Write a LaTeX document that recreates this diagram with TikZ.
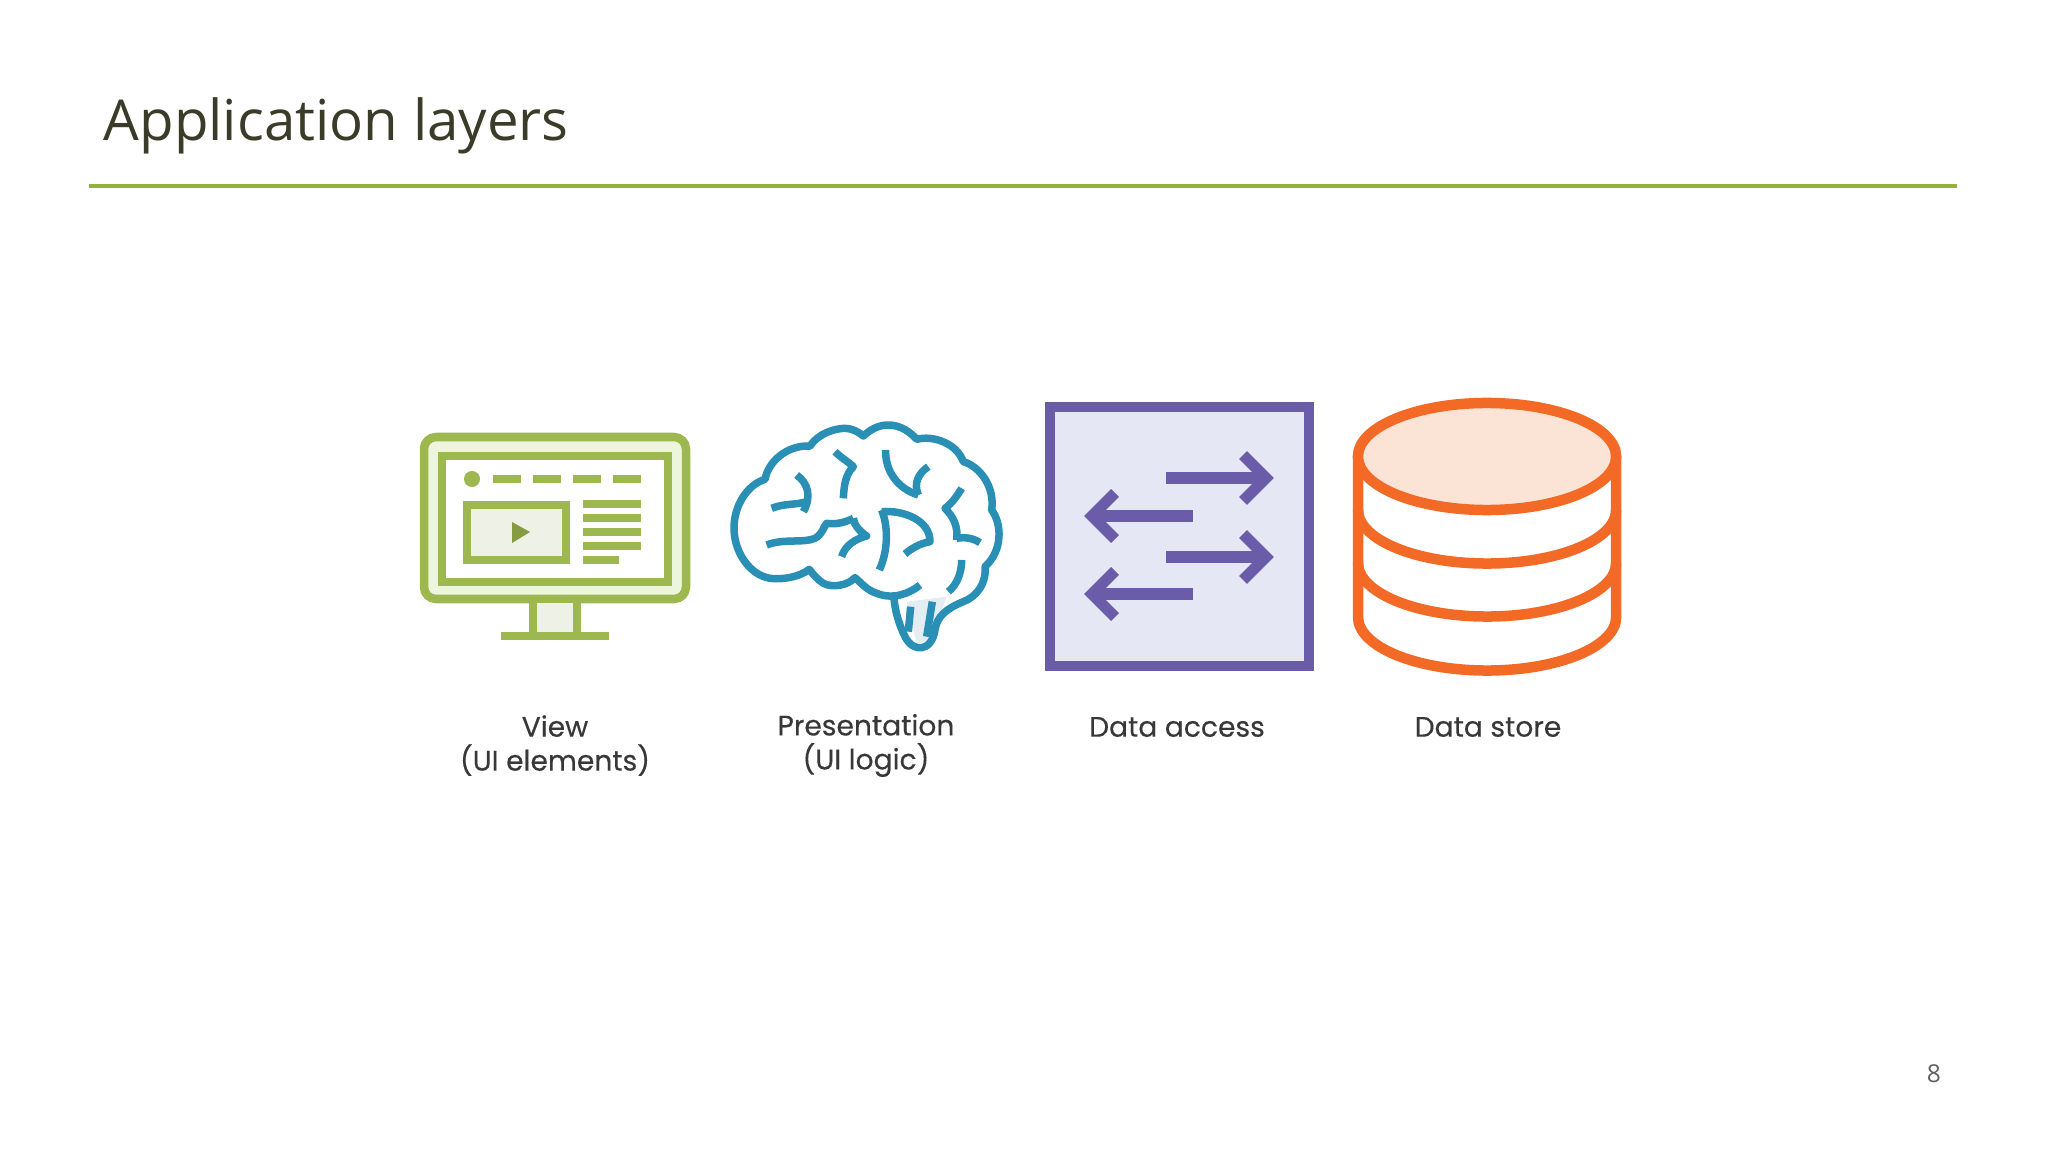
\documentclass[tikz,border=0pt]{standalone}
\usepackage{fontspec}
\setmainfont{Open Sans}
\newfontfamily\labelfont[FakeBold=0.35]{Poppins}
\definecolor{viewgreen}{HTML}{9CB84E}
\definecolor{viewtint}{HTML}{EDF5DC}
\definecolor{viewfill}{HTML}{EEF1E6}
\definecolor{brainblue}{HTML}{2A8FB5}
\definecolor{braintint}{HTML}{E4EEF2}
\definecolor{accesspurple}{HTML}{6A5CA8}
\definecolor{accesstint}{HTML}{E6E7F5}
\definecolor{storeorange}{HTML}{F26A26}
\definecolor{storetint}{HTML}{FBE3D6}
\definecolor{rulegreen}{HTML}{92B13F}
\definecolor{titleink}{HTML}{3B3B2A}
\tikzset{
  viewline/.style={viewgreen, line width=0.085cm},
  brainline/.style={brainblue, line width=0.075cm, line cap=butt, line join=round},
  accessline/.style={accesspurple, line width=0.11cm, miter limit=10},
  storeline/.style={storeorange, line width=0.105cm, line join=round},
  iconlabel/.style={font=\labelfont\fontsize{8}{9.65}\selectfont, text=black!78, align=center, inner sep=0pt},
}
\begin{document}
\begin{tikzpicture}[x=0.01cm, y=-0.01cm]
\useasboundingbox (0,0) rectangle (2048,1152);
\node[anchor=base west, inner sep=0pt, text=titleink, font=\fontsize{16.05}{20}\selectfont] (title) at (103,141) {Application layers};
\draw[rulegreen, line width=0.045cm] (89,186) -- (1957,186);
\node[text=black!62, inner sep=0pt, font=\fontsize{7}{9}\selectfont] (pagenum) at (1934,1074) {8};
% view: monitor
\draw[viewline, rounded corners=0.12cm, fill=viewtint] (424,437) rectangle (686,599);
\draw[viewline, fill=white] (442,456) rectangle (668,582);
\fill[viewgreen] (472,479) circle (0.08cm);
\draw[viewline] (493,479) -- (521,479);
\draw[viewline] (533,479) -- (561,479);
\draw[viewline] (573,479) -- (601,479);
\draw[viewline] (613,479) -- (641,479);
\draw[viewline, fill=viewfill] (467,505) rectangle (566,560);
\fill[viewgreen!85!black] (512,522) -- (530,532) -- (512,543) -- cycle;
\draw[viewline] (583,504) -- (641,504);
\draw[viewline] (583,518) -- (641,518);
\draw[viewline] (583,532) -- (641,532);
\draw[viewline] (583,546) -- (641,546);
\draw[viewline] (583,560) -- (619,560);
\fill[viewfill] (533,603) rectangle (577,632);
\draw[viewline] (533,603) -- (533,632);
\draw[viewline] (577,603) -- (577,632);
\draw[viewline] (501,636) -- (609,636);
% presentation: brain, in its own grid
\begin{scope}[shift={(720,410)}, x=0.01cm/3, y=-0.01cm/3]
\fill[braintint] (560,575) -- (680,560) -- (650,640) -- (630,695) -- (590,700) -- cycle;
\draw[brainline] (600,525) .. controls (570,550) and (520,570) .. (470,550)
  .. controls (440,540) and (425,520) .. (405,503)
  .. controls (385,525) and (340,535) .. (310,520)
  .. controls (295,510) and (280,495) .. (268,478)
  .. controls (240,500) and (190,510) .. (150,505)
  .. controls (90,495) and (45,430) .. (42,360)
  .. controls (40,290) and (80,225) .. (135,208)
  .. controls (145,155) and (200,105) .. (270,108)
  .. controls (295,70) and (345,55) .. (375,55)
  .. controls (395,55) and (415,65) .. (430,78)
  .. controls (455,55) and (480,45) .. (505,45)
  .. controls (540,45) and (570,65) .. (590,88)
  .. controls (640,75) and (710,100) .. (730,155)
  .. controls (780,170) and (825,230) .. (815,300)
  .. controls (845,340) and (850,420) .. (795,470)
  .. controls (800,520) and (770,560) .. (730,575)
  .. controls (680,595) and (650,620) .. (645,660)
  .. controls (635,725) and (580,730) .. (555,680)
  .. controls (535,640) and (525,600) .. (522,565);
\draw[brainline] (230,195) .. controls (265,220) and (275,260) .. (250,305);
\draw[brainline] (155,295) .. controls (190,280) and (230,285) .. (260,275);
\draw[brainline] (345,125) .. controls (365,145) and (385,155) .. (400,170) .. controls (375,195) and (372,230) .. (370,265);
\draw[brainline] (497,120) .. controls (495,180) and (530,235) .. (595,255);
\draw[brainline] (625,170) .. controls (595,190) and (580,220) .. (595,255);
\draw[brainline] (725,235) .. controls (710,260) and (695,280) .. (675,295) .. controls (700,320) and (715,350) .. (710,390);
\draw[brainline] (710,385) .. controls (735,380) and (760,385) .. (780,398);
\draw[brainline] (140,405) .. controls (190,385) and (250,400) .. (285,385) .. controls (310,370) and (310,350) .. (320,340) .. controls (350,345) and (380,335) .. (400,325);
\draw[brainline] (400,325) .. controls (402,345) and (420,365) .. (440,378) .. controls (410,385) and (375,405) .. (365,440);
\draw[brainline] (485,300) .. controls (505,350) and (505,420) .. (478,480);
\draw[brainline] (485,305) .. controls (550,300) and (630,330) .. (630,395) .. controls (600,400) and (575,415) .. (555,432);
\draw[brainline] (725,450) .. controls (725,490) and (710,525) .. (685,545);
\draw[brainline] (572,590) -- (565,665);
\draw[brainline] (637,575) -- (620,680);
\end{scope}
% data access
\draw[accesspurple, line width=0.10cm, fill=accesstint] (1050,407) rectangle (1309,666);
\draw[accessline] (1166,478) -- (1264,478);
\draw[accessline] (1243,455) -- (1266,478) -- (1243,501);
\draw[accessline] (1166,557) -- (1264,557);
\draw[accessline] (1243,534) -- (1266,557) -- (1243,580);
\draw[accessline] (1193,516) -- (1094,516);
\draw[accessline] (1115,493) -- (1092,516) -- (1115,539);
\draw[accessline] (1193,594) -- (1094,594);
\draw[accessline] (1115,571) -- (1092,594) -- (1115,617);
% data store
\draw[storeline] (1358,456) -- (1358,617) arc[start angle=180, end angle=360, x radius=1.29cm, y radius=0.535cm] -- (1616,456);
\draw[storeline] (1358,510) arc[start angle=180, end angle=360, x radius=1.29cm, y radius=0.535cm];
\draw[storeline] (1358,563) arc[start angle=180, end angle=360, x radius=1.29cm, y radius=0.535cm];
\draw[storeline, fill=storetint] (1487,456.5) ellipse[x radius=1.29cm, y radius=0.535cm];
% labels
\node[iconlabel] (viewlabel) at (555,745.5) {View\\(UI elements)};
\node[iconlabel] (presentlabel) at (866,745.5) {Presentation\\(UI logic)};
\node[iconlabel] (accesslabel) at (1177,727) {Data access};
\node[iconlabel] (storelabel) at (1488,727) {Data store};
\end{tikzpicture}
\end{document}
